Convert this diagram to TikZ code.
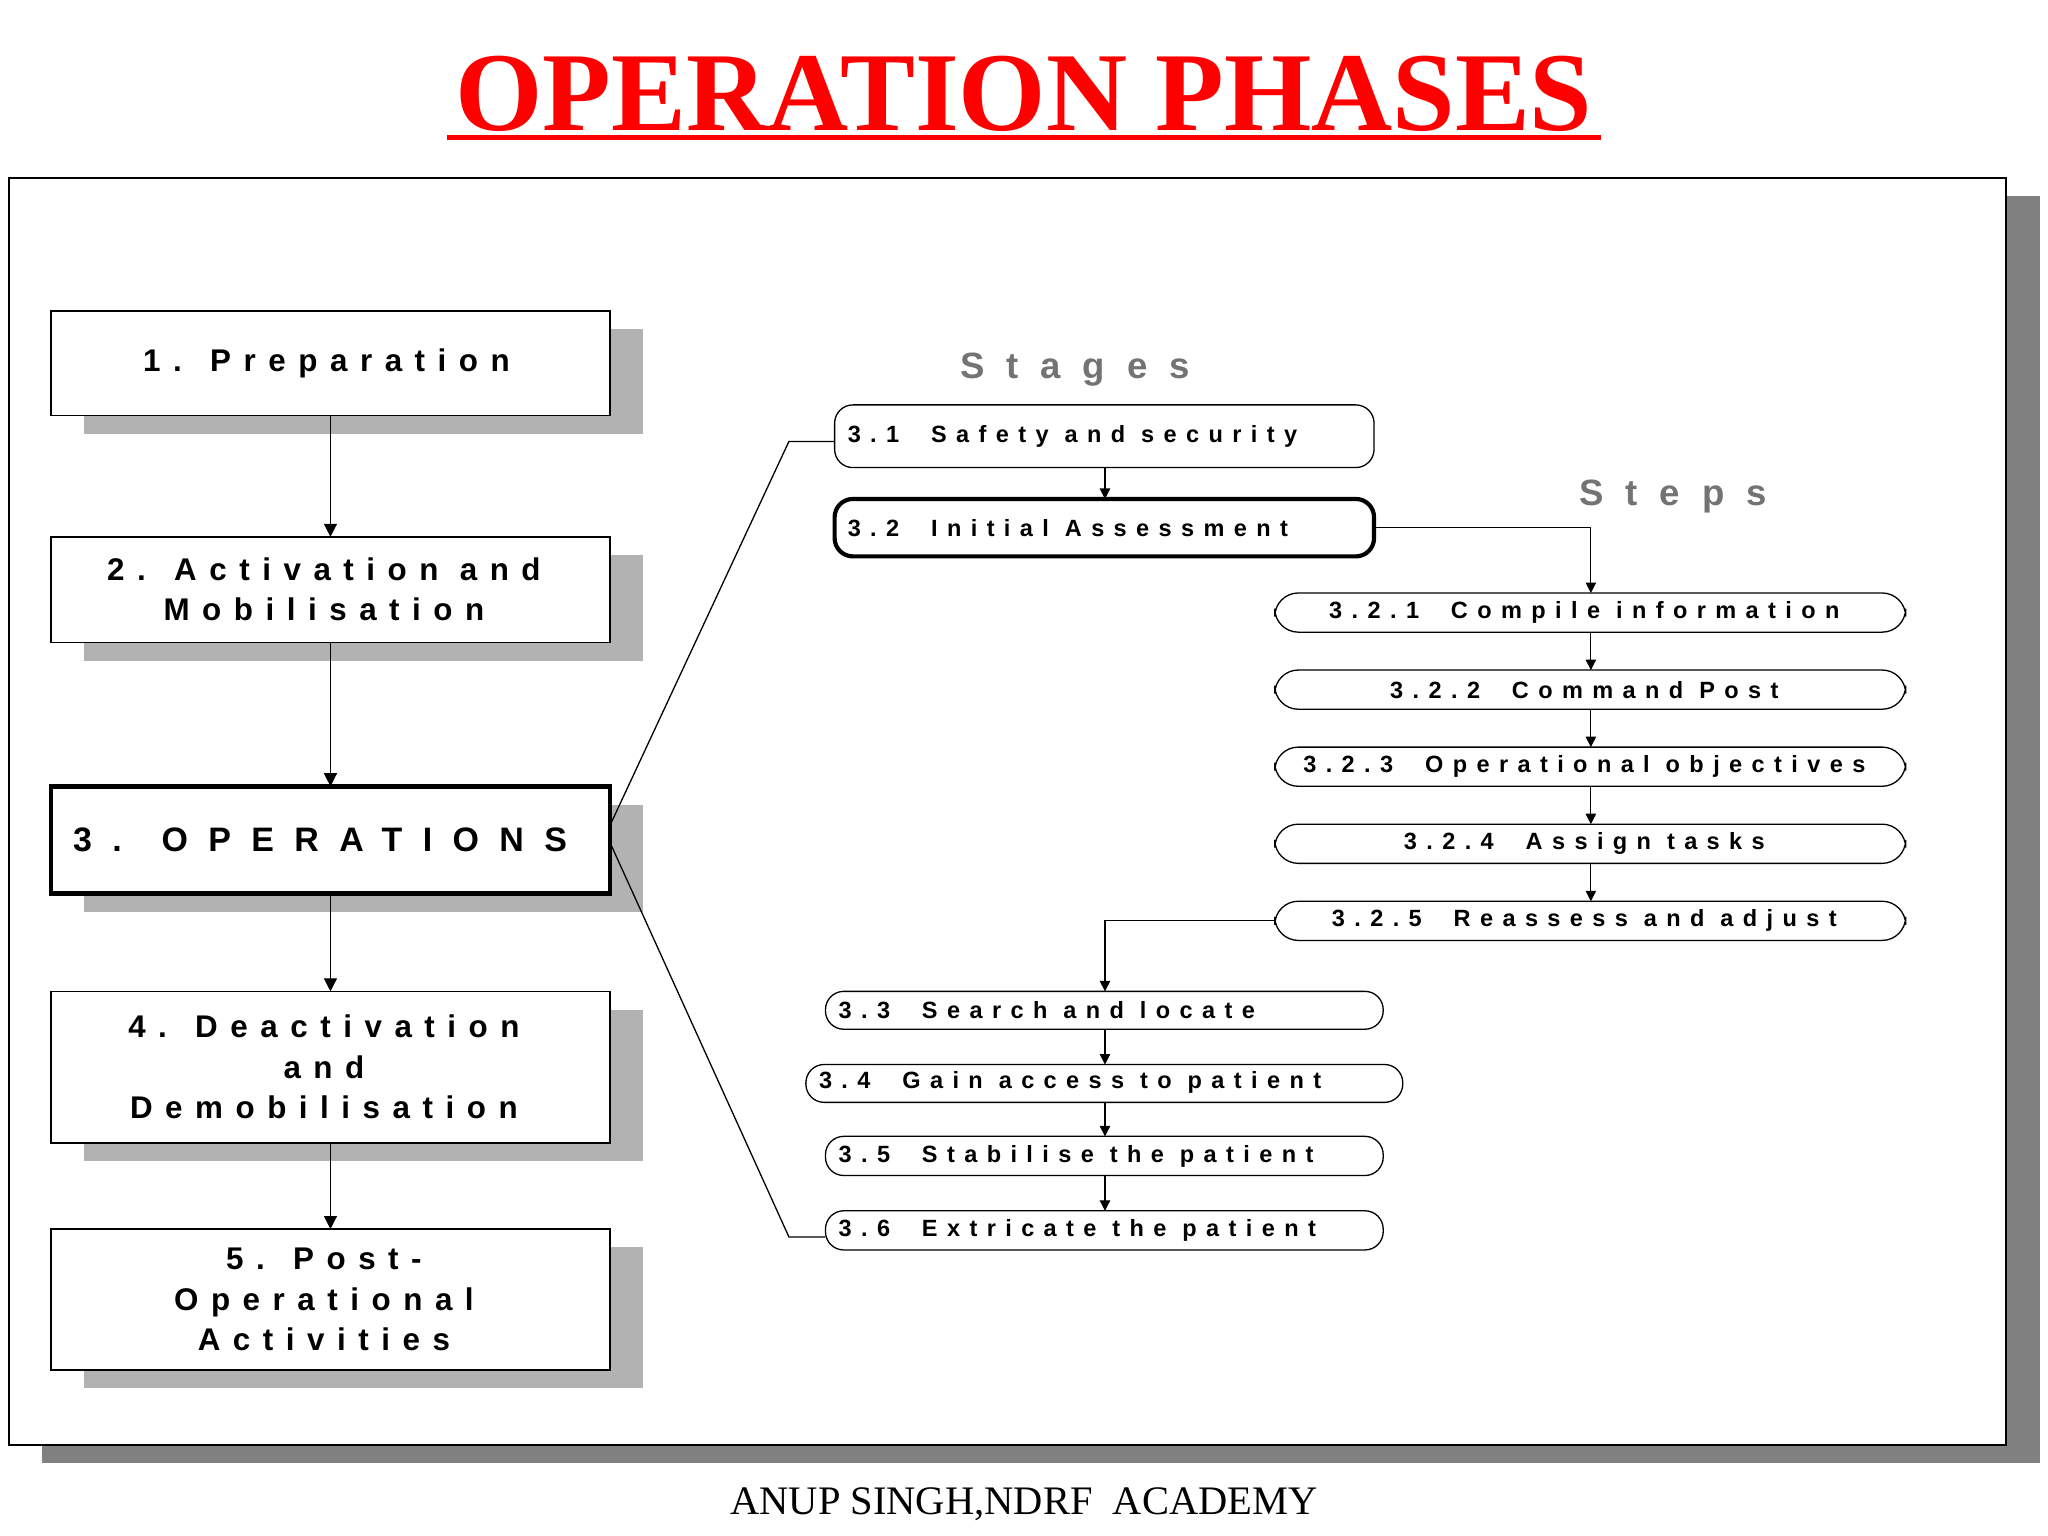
\documentclass[tikz,border=0pt]{standalone}
\usepackage{fontspec}
\setmainfont{Liberation Serif}
\newfontfamily\lspa[LetterSpace=40]{Liberation Sans}
\newfontfamily\lspb[LetterSpace=60]{Liberation Sans}
\usetikzlibrary{arrows.meta}
\begin{document}
\begin{tikzpicture}[x=0.5pt,y=-0.5pt,
  lbox/.style={draw,fill=white,line width=0.6pt,font=\lspa\bfseries\fontsize{12}{15.5}\selectfont,align=center},
  ltext/.style={font=\lspa\bfseries\fontsize{12}{15.5}\selectfont,align=center},
  sbox/.style={draw,fill=white,rounded corners=7pt,line width=0.5pt},
  stext/.style={font=\lspa\bfseries\fontsize{9}{11}\selectfont},
  arr/.style={-{Triangle[length=5pt,width=5pt]},line width=0.5pt},
  sarr/.style={-{Triangle[length=4pt,width=4pt]},line width=0.4pt},
  shad/.style={fill=black!30}]
\useasboundingbox (0,0) rectangle (1568,1176);
\node[text=red,font=\bfseries\fontsize{43}{46}\selectfont,anchor=base] (title) at (784,100) {OPERATION PHASES};
\draw[red,line width=2pt] (342,105) -- (1226,105);
% frame
\fill[black!50] (32,150) rectangle (1562,1120);
\draw[fill=white,line width=0.8pt] (7,136) rectangle (1536,1106);
% left boxes shadows
\foreach \a/\b in {238/318,411/492,602/684,759/875,941/1049}
  \fill[shad] (64,\a+14) rectangle (492,\b+14);
\draw[lbox] (39,238) rectangle (467,318);
\node[ltext] (b1) at (250,278) {1. Preparation};
\draw[lbox] (39,411) rectangle (467,492);
\node[ltext] (b2) at (248,451) {2. Activation and\\Mobilisation};
\draw[lbox,line width=1.8pt] (39,602) rectangle (467,684);
\node[ltext,font=\lspb\bfseries\fontsize{13}{16}\selectfont] (b3) at (245,643) {3. OPERATIONS};
\draw[lbox] (39,759) rectangle (467,875);
\node[ltext] (b4) at (248,817) {4. Deactivation\\and\\Demobilisation};
\draw[lbox] (39,941) rectangle (467,1049);
\node[ltext] (b5) at (248,995) {5. Post-\\Operational\\Activities};
\coordinate (t1) at (253,318); \coordinate (t2) at (253,411);
\coordinate (t3) at (253,492); \coordinate (t4) at (253,602);
\coordinate (t5) at (253,684); \coordinate (t6) at (253,759);
\coordinate (t7) at (253,875); \coordinate (t8) at (253,941);
\draw[arr] (t1)--(t2); \draw[arr] (t3)--(t4); \draw[arr] (t5)--(t6); \draw[arr] (t7)--(t8);
% headers
\node[text=black!55,font=\lspb\bfseries\fontsize{14}{16}\selectfont] (stg) at (823,283) {Stages};
\node[text=black!55,font=\lspb\bfseries\fontsize{14}{16}\selectfont] (stp) at (1281,380) {Steps};
% stages
\draw[sbox] (639,310) rectangle (1052,358); \node[stext,anchor=west] (s1) at (642,334) {3.1\ \ Safety and security};
\draw[sbox,line width=1.6pt] (639,382) rectangle (1052,426); \node[stext,anchor=west] (s2) at (642,404) {3.2\ \ Initial Assessment};
\draw[sbox] (632,759) rectangle (1059,788); \node[stext,anchor=west] (s3) at (635,773) {3.3\ \ Search and locate};
\draw[sbox] (617,815) rectangle (1074,844); \node[stext,anchor=west] (s4) at (620,829) {3.4\ \ Gain access to patient};
\draw[sbox] (632,870) rectangle (1059,900); \node[stext,anchor=west] (s5) at (635,885) {3.5\ \ Stabilise the patient};
\draw[sbox] (632,927) rectangle (1059,957); \node[stext,anchor=west] (s6) at (635,942) {3.6\ \ Extricate the patient};
\draw[sarr] (846,358)--(846,382);
\draw[sarr] (846,788)--(846,815);
\draw[sarr] (846,844)--(846,870);
\draw[sarr] (846,900)--(846,927);
% steps
\foreach \y/\t/\n in {454/3.2.1\ \ Compile information/p1,513/3.2.2\ \ Command Post/p2,572/3.2.3\ \ Operational objectives/p3,631/3.2.4\ \ Assign tasks/p4,690/3.2.5\ \ Reassess and adjust/p5}{
  \draw[sbox,rounded corners=9pt] (976,\y) rectangle (1459,\y+30);
  \node[stext] (\n) at (1213,\y+15) {\t};
}
\draw[sarr] (1218,484)--(1218,513);
\draw[sarr] (1218,543)--(1218,572);
\draw[sarr] (1218,602)--(1218,631);
\draw[sarr] (1218,661)--(1218,690);
\draw[sarr] (1052,404)--(1218,404)--(1218,454);
\draw[sarr] (976,705)--(846,705)--(846,759);
% fan lines
\draw[line width=0.5pt] (467,632)--(604,338)--(639,338);
\draw[line width=0.5pt] (467,645)--(604,947)--(632,947);
\node[font=\fontsize{15.5}{18}\selectfont] (foot) at (784,1152) {ANUP SINGH,NDRF\ \ ACADEMY};
\end{tikzpicture}
\end{document}
